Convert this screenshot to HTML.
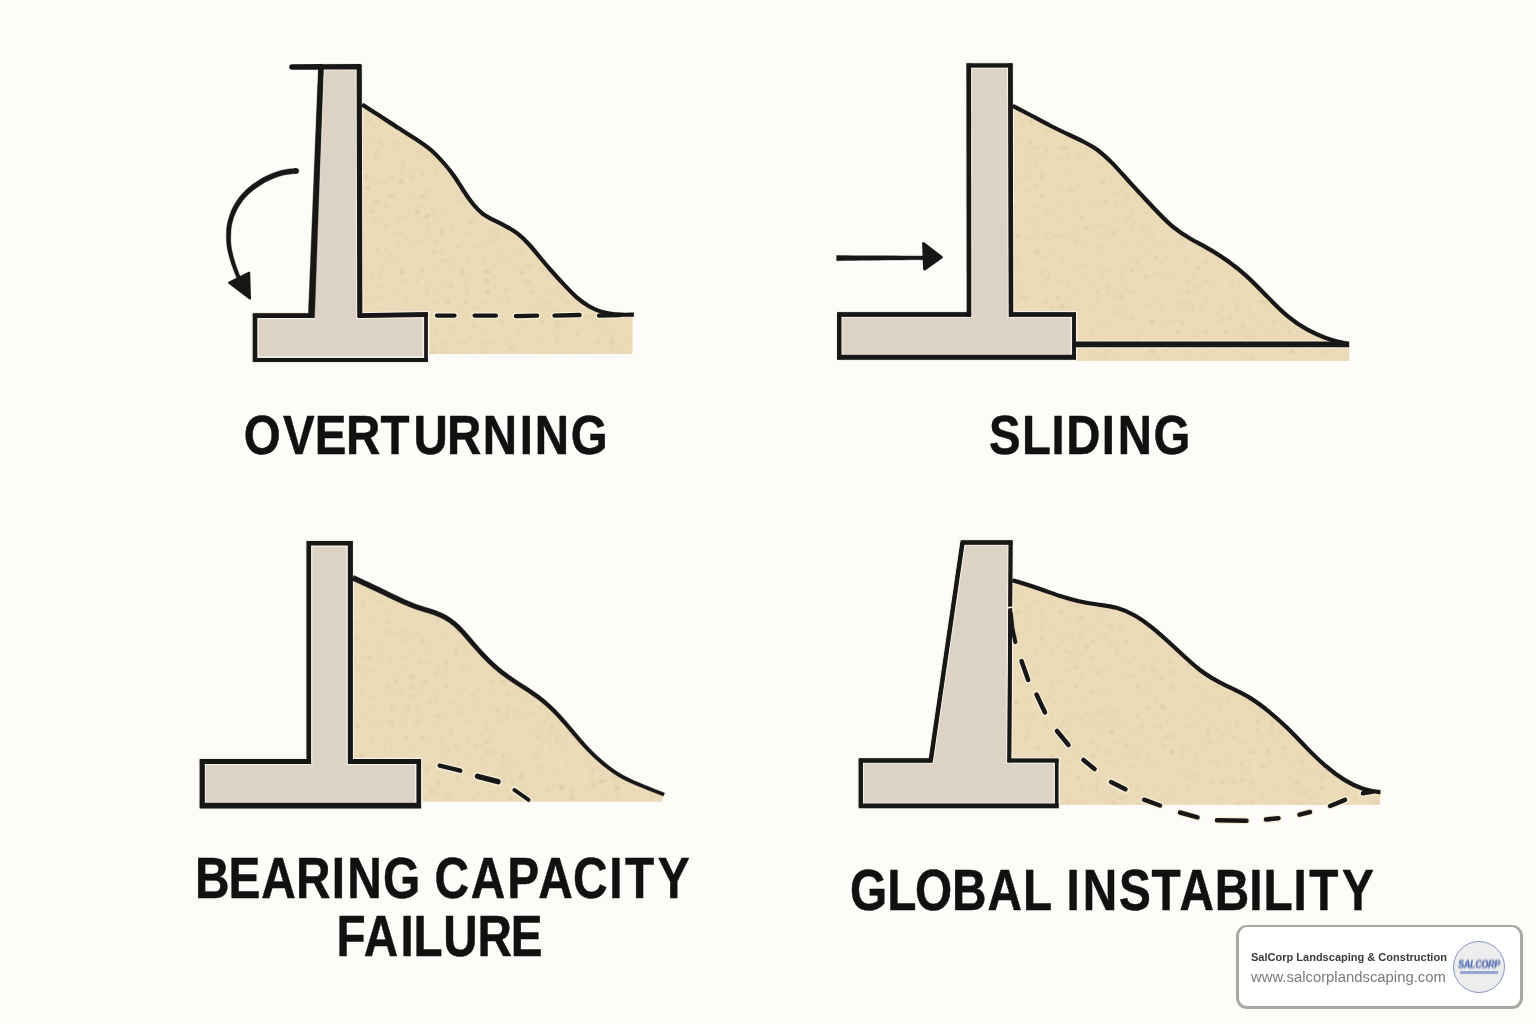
<!DOCTYPE html>
<html lang="en">
<head>
<meta charset="utf-8">
<title>Retaining wall failure modes</title>
<style>
  html, body { margin: 0; padding: 0; }
  body { width: 1536px; height: 1024px; overflow: hidden; background: #fefcf8;
         font-family: "Liberation Sans", sans-serif; position: relative; }
  svg.art { position: absolute; left: 0; top: 0; display: block; }
  .soil { fill: #ecdbb8; stroke: none; }
  .wallfill { fill: #ddd3c4; stroke: #f4efe4; stroke-linejoin: miter; }
  .wall { fill: none; stroke: #171717; stroke-linejoin: miter; }
  .edge { fill: none; stroke: #171717; stroke-linecap: butt; }
  .ink { fill: none; stroke: #171717; stroke-linecap: round; stroke-linejoin: round; }
  .butt { stroke-linecap: butt; }
  .fillink { fill: #171717; stroke: #171717; stroke-width: 0.4; stroke-linejoin: round; }
  .solid { fill: #171717; stroke: #171717; stroke-linejoin: round; }
  .dash path { fill: none; stroke: #171717; stroke-linecap: round; }
  .dash path.halo, path.halo { fill: none; stroke: #f7efd9; stroke-linecap: round; }
  .label text { font-family: "Liberation Sans", sans-serif; font-weight: 700; fill: #111;
                 stroke: #111; stroke-width: 0.5px; stroke-linejoin: round; }
  .badge { position: absolute; left: 1236px; top: 925px; width: 287px; height: 84px;
           box-sizing: border-box; border: solid #aaa8a2; border-width: 2px 3px 3px 3px; border-radius: 11px; background: #fff; }
  .badge .name, .badge .url { position: absolute; left: 12px; white-space: nowrap;
           transform-origin: 0 0; }
  .badge .name { top: 22px; font-size: 11.8px; line-height: 16px; font-weight: 700; color: #3a3a3a;
                 transform: scaleX(0.934); }
  .badge .url { top: 39.6px; font-size: 15.2px; line-height: 20px; color: #7a7a7a;
                transform: scaleX(0.978); }
  .badge .logo { position: absolute; left: 214px; top: 14px; width: 52px; height: 52px;
                 box-sizing: border-box; border-radius: 50%; border: 1px solid #8796c6;
                 background: #ededee; overflow: hidden; }
  .badge .logo span { position: absolute; left: 1px; top: 18.4px; width: 48px; text-align: center;
                      font-size: 10px; line-height: 10px; font-weight: 700; font-style: italic;
                      color: #5a72b2; letter-spacing: -0.2px;
                      transform: scaleX(0.88); filter: blur(0.8px);
                      text-shadow: 0.4px 0 0 #5a72b2; }
  .badge .logo i { position: absolute; left: 5.5px; top: 28.6px; width: 38px; height: 3px;
                   background: #93a4d0; transform: skewX(-14deg); filter: blur(0.7px); }
</style>
</head>
<body>
<svg class="art" width="1536" height="1024" viewBox="0 0 1536 1024">
  <defs>
    <!-- faint sandy speckle for the retained soil -->
    <filter id="sand" x="0" y="0" width="100%" height="100%" color-interpolation-filters="sRGB">
      <feTurbulence type="fractalNoise" baseFrequency="0.2" numOctaves="2" seed="11" result="n"/>
      <feColorMatrix in="n" type="matrix"
        values="0 0 0 0 0.81  0 0 0 0 0.73  0 0 0 0 0.56  3.4 0 0 0 -2.2" result="dots"/>
      <feGaussianBlur in="dots" stdDeviation="0.85" result="soft"/>
      <feComposite in="soft" in2="SourceGraphic" operator="in" result="clip"/>
      <feMerge><feMergeNode in="SourceGraphic"/><feMergeNode in="clip"/></feMerge>
    </filter>
  </defs>
  <!-- 1: overturning -->
  <g>
    <path class="soil" filter="url(#sand)" d="M362.1 104.4 C368.1 108.36 374.1 112.2 380.1 116.1 C386.37 120.17 392.63 124.31 398.9 128.3 C405.13 132.27 411.37 136.11 417.6 140.2 C422.23 143.24 426.87 146.42 431.5 150.5 C436 154.46 440.5 159.27 445 164.5 C448.37 168.41 451.73 172.55 455.1 177.5 C457.87 181.57 460.63 186.17 463.4 190.5 C466.53 195.4 469.67 199.94 472.8 203.8 C475.93 207.66 479.07 210.84 482.2 213.3 C485.33 215.76 488.47 217.48 491.6 219.1 C496.07 221.4 500.53 223.47 505 225.8 C509 227.88 513 230.17 517 233.2 C521.03 236.26 525.07 240.07 529.1 244.5 C532.77 248.53 536.43 253.06 540.1 257.5 C544.07 262.31 548.03 267.01 552 271.5 C556 276.02 560 280.33 564 284.6 C568.33 289.23 572.67 293.82 577 297.6 C581 301.09 585 303.89 589 306.2 C593.17 308.61 597.33 310.48 601.5 311.8 C606.03 313.24 610.57 314.02 615.1 314.4 C621.37 314.93 627.63 314.7 633.9 314.7 L632.5 315 L632.5 354 L426 354 L426 315 L360 315 Z"/>
    <g class="dash">
      <path class="halo" d="M437 315.6 L454.5 315.6" stroke-width="6.9"/>
      <path d="M437 315.6 L454.5 315.6" stroke-width="4.3"/>
      <path class="halo" d="M474.6 315.6 L495.9 315.7" stroke-width="6.9"/>
      <path d="M474.6 315.6 L495.9 315.7" stroke-width="4.3"/>
      <path class="halo" d="M515.9 316.2 L537.1 315.6" stroke-width="6.9"/>
      <path d="M515.9 316.2 L537.1 315.6" stroke-width="4.3"/>
      <path class="halo" d="M554.5 315.7 L579.6 315" stroke-width="6.9"/>
      <path d="M554.5 315.7 L579.6 315" stroke-width="4.3"/>
      <path class="halo" d="M599 315.6 L620 315" stroke-width="6.9"/>
      <path d="M599 315.6 L620 315" stroke-width="4.3"/>
    </g>
    <path class="wallfill" d="M321 66.9 L359.2 66.7 L359.8 315.6 L426 314.6 L426 359.9 L255 359.9 L255 315.6 L311.4 315.6 Z" stroke-width="7.2"/>
    <path class="ink butt" d="M362.1 104.4 C368.1 108.36 374.1 112.2 380.1 116.1 C386.37 120.17 392.63 124.31 398.9 128.3 C405.13 132.27 411.37 136.11 417.6 140.2 C422.23 143.24 426.87 146.42 431.5 150.5 C436 154.46 440.5 159.27 445 164.5 C448.37 168.41 451.73 172.55 455.1 177.5 C457.87 181.57 460.63 186.17 463.4 190.5 C466.53 195.4 469.67 199.94 472.8 203.8 C475.93 207.66 479.07 210.84 482.2 213.3 C485.33 215.76 488.47 217.48 491.6 219.1 C496.07 221.4 500.53 223.47 505 225.8 C509 227.88 513 230.17 517 233.2 C521.03 236.26 525.07 240.07 529.1 244.5 C532.77 248.53 536.43 253.06 540.1 257.5 C544.07 262.31 548.03 267.01 552 271.5 C556 276.02 560 280.33 564 284.6 C568.33 289.23 572.67 293.82 577 297.6 C581 301.09 585 303.89 589 306.2 C593.17 308.61 597.33 310.48 601.5 311.8 C606.03 313.24 610.57 314.02 615.1 314.4 C621.37 314.93 627.63 314.7 633.9 314.7" stroke-width="4.2"/>
    <path class="wall" d="M321 66.9 L359.2 66.7 L359.8 315.6 L426 314.6 L426 359.9 L255 359.9 L255 315.6 L311.4 315.6 Z" stroke-width="3.7"/>
    <path class="edge" d="M319.15 66.91 L361.05 66.69" stroke-width="5.4"/>
    <path class="edge" d="M359.2 64.85 L359.8 317.45" stroke-width="5.1"/>
    <path class="edge" d="M357.95 315.63 L427.85 314.57" stroke-width="4.9"/>
    <path class="edge" d="M427.85 359.9 L253.15 359.9" stroke-width="4"/>
    <path class="edge" d="M255 361.75 L255 313.75" stroke-width="4.6"/>
    <path class="edge" d="M253.15 315.6 L313.25 315.6" stroke-width="4.6"/>
    <path class="edge" d="M311.4 315.6 L321 66.9" stroke-width="4.8"/>
    <path class="fillink" d="M314.55 317.72 L315.85 281.63 L317.14 245.54 L318.41 209.45 L319.68 173.36 L320.97 137.27 L322.28 101.19 L323.6 65.1 L318.6 64.9 L317.1 100.98 L315.6 137.07 L314.13 173.15 L312.67 209.23 L311.21 245.32 L309.74 281.4 L308.25 317.48 Z"/>
    <path class="ink" d="M292 67 L321 66.9" stroke-width="5.6"/>
    <path class="fillink" d="M295.94 168.31 L292.19 168.69 L288.4 169.09 L284.54 169.65 L280.69 170.51 L276.93 171.63 L273.27 172.95 L269.69 174.44 L266.19 176.08 L262.76 177.87 L259.41 179.82 L256.17 181.93 L253.02 184.12 L249.93 186.44 L246.92 188.94 L244.08 191.66 L241.46 194.58 L239.03 197.62 L236.77 200.78 L234.68 204.08 L232.8 207.52 L231.18 211.09 L229.8 214.73 L228.61 218.42 L227.61 222.2 L226.9 226.08 L226.54 229.99 L226.41 233.83 L226.37 237.65 L226.47 241.52 L226.82 245.4 L227.43 249.24 L228.25 253.01 L229.22 256.71 L230.28 260.37 L231.43 264.01 L232.7 267.6 L234.05 271.14 L235.44 274.65 L236.82 278.14 L240.18 276.86 L238.88 273.33 L237.57 269.82 L236.32 266.31 L235.15 262.8 L234.1 259.25 L233.14 255.67 L232.27 252.08 L231.55 248.5 L231.04 244.91 L230.78 241.3 L230.74 237.65 L230.84 233.96 L231.01 230.3 L231.39 226.73 L232.09 223.23 L233.06 219.76 L234.21 216.3 L235.54 212.94 L237.07 209.68 L238.83 206.55 L240.79 203.52 L242.92 200.59 L245.21 197.78 L247.63 195.13 L250.23 192.67 L253.02 190.39 L255.96 188.23 L258.99 186.14 L262.07 184.17 L265.22 182.36 L268.46 180.69 L271.77 179.16 L275.13 177.76 L278.54 176.54 L281.99 175.52 L285.47 174.76 L289.05 174.25 L292.73 173.86 L296.46 173.49 Z"/><circle class="fillink" cx="296.2" cy="170.9" r="2.6"/>
    <path class="solid" d="M229 282.6 L249.2 272.6 L250 298.6 Z" stroke-width="2"/>
  </g>
  <!-- 2: sliding -->
  <g>
    <path class="soil" filter="url(#sand)" d="M1012.8 105.8 C1018.95 109.03 1025.1 112.21 1031.25 115.5 C1037.5 118.84 1043.75 122.28 1050 125.5 C1058.33 129.79 1066.67 133.67 1075 137.6 C1078.03 139.03 1081.07 140.46 1084.1 142 C1087.23 143.59 1090.37 145.29 1093.5 147.3 C1096.63 149.31 1099.77 151.64 1102.9 154.3 C1106.02 156.94 1109.13 159.91 1112.25 163.1 C1118.5 169.5 1124.75 176.79 1131 183.7 C1137.25 190.61 1143.5 197.15 1149.75 203.8 C1157.2 211.73 1164.65 219.82 1172.1 226.1 C1178.37 231.38 1184.63 235.39 1190.9 239 C1197.13 242.59 1203.37 245.81 1209.6 249.4 C1215.87 253.01 1222.13 257.01 1228.4 261.5 C1234.63 265.96 1240.87 270.9 1247.1 276.6 C1254.07 282.97 1261.03 290.28 1268 297.4 C1274.75 304.3 1281.5 311.03 1288.25 316.6 C1294.5 321.76 1300.75 325.93 1307 329.4 C1313.25 332.87 1319.5 335.65 1325.75 337.9 C1332.67 340.39 1339.58 342.22 1346.5 343.6 L1349.2 343.8 L1349.2 361 L1076 361 L1076 315 L1012 315 Z"/>
    <path class="wallfill" d="M968.75 65.4 L1010.4 65.4 L1011 314.5 L1074 314.5 L1074 357.3 L839.25 357.3 L839.25 314.5 L969 314.5 Z" stroke-width="6.8"/>
    <path class="halo" d="M1074 344.4 L1349.2 344.4" stroke-width="8" style="stroke-linecap:butt"/>
    <path class="ink butt" d="M1074 344.4 L1349.2 344.4" stroke-width="5.6"/>
    <path class="ink butt" d="M1012.8 105.8 C1018.95 109.03 1025.1 112.21 1031.25 115.5 C1037.5 118.84 1043.75 122.28 1050 125.5 C1058.33 129.79 1066.67 133.67 1075 137.6 C1078.03 139.03 1081.07 140.46 1084.1 142 C1087.23 143.59 1090.37 145.29 1093.5 147.3 C1096.63 149.31 1099.77 151.64 1102.9 154.3 C1106.02 156.94 1109.13 159.91 1112.25 163.1 C1118.5 169.5 1124.75 176.79 1131 183.7 C1137.25 190.61 1143.5 197.15 1149.75 203.8 C1157.2 211.73 1164.65 219.82 1172.1 226.1 C1178.37 231.38 1184.63 235.39 1190.9 239 C1197.13 242.59 1203.37 245.81 1209.6 249.4 C1215.87 253.01 1222.13 257.01 1228.4 261.5 C1234.63 265.96 1240.87 270.9 1247.1 276.6 C1254.07 282.97 1261.03 290.28 1268 297.4 C1274.75 304.3 1281.5 311.03 1288.25 316.6 C1294.5 321.76 1300.75 325.93 1307 329.4 C1313.25 332.87 1319.5 335.65 1325.75 337.9 C1332.67 340.39 1339.58 342.22 1346.5 343.6" stroke-width="4.2"/>
    <path class="wall" d="M968.75 65.4 L1010.4 65.4 L1011 314.5 L1074 314.5 L1074 357.3 L839.25 357.3 L839.25 314.5 L969 314.5 Z" stroke-width="3.9"/>
    <path class="edge" d="M966.8 65.4 L1012.35 65.4" stroke-width="4"/>
    <path class="edge" d="M1010.4 63.45 L1011 316.45" stroke-width="4.6"/>
    <path class="edge" d="M1009.05 314.5 L1075.95 314.5" stroke-width="4.6"/>
    <path class="edge" d="M1075.95 357.3 L837.3 357.3" stroke-width="5"/>
    <path class="edge" d="M839.25 359.25 L839.25 312.55" stroke-width="4.2"/>
    <path class="edge" d="M837.3 314.5 L970.95 314.5" stroke-width="4.6"/>
    <path class="edge" d="M969 316.45 L968.75 63.45" stroke-width="4.6"/>
    <path class="fillink" d="M836.61 260.7 L844.73 260.54 L852.86 260.42 L860.99 260.33 L869.12 260.23 L877.24 260.15 L885.37 260.06 L893.5 259.98 L901.63 259.89 L909.75 259.81 L917.88 259.73 L926.01 259.65 L925.99 255.95 L917.87 255.93 L909.74 255.92 L901.61 255.89 L893.48 255.87 L885.36 255.84 L877.23 255.81 L869.1 255.77 L860.97 255.73 L852.85 255.68 L844.72 255.62 L836.59 255.5 Z"/>
    <path class="solid" d="M923.6 243.6 L941.2 257.2 L924.6 269 Z" stroke-width="3"/>
  </g>
  <!-- 3: bearing capacity failure -->
  <g>
    <path class="soil" filter="url(#sand)" d="M352.9 577.8 C362.43 582.19 371.97 586.59 381.5 591.2 C394 597.25 406.5 603.65 419 607.8 C425.25 609.88 431.5 611.39 437.75 613.9 C444 616.41 450.25 619.9 456.5 625.6 C462.13 630.73 467.77 637.66 473.4 644.2 C479.63 651.44 485.87 658.22 492.1 664 C498.37 669.81 504.63 674.6 510.9 678.9 C517.13 683.17 523.37 686.95 529.6 691.1 C535.57 695.07 541.53 699.37 547.5 704.7 C553.03 709.64 558.57 715.46 564.1 721.8 C570.37 728.98 576.63 736.83 582.9 743.8 C589.13 750.73 595.37 756.78 601.6 762.1 C607.87 767.45 614.13 772.05 620.4 775.7 C626.63 779.33 632.87 782.01 639.1 784.6 C647.4 788.05 655.7 791.35 664 794.5 L662 801.8 L421 801.8 L421 761 L352 761 Z"/>
    <g class="dash">
      <path class="halo" d="M439.7 765.6 L460.3 770.6" stroke-width="7.1"/>
      <path d="M439.7 765.6 L460.3 770.6" stroke-width="4.5"/>
      <path class="halo" d="M477.6 776.3 L498 781.7" stroke-width="8"/>
      <path d="M477.6 776.3 L498 781.7" stroke-width="5.4"/>
      <path class="halo" d="M514.3 789.9 L528.6 799.9" stroke-width="6.4"/>
      <path d="M514.3 789.9 L528.6 799.9" stroke-width="3.8"/>
    </g>
    <path class="wallfill" d="M308.75 543.25 L350.3 543.25 L350.3 761.5 L418.75 761.5 L418.75 805.6 L202.2 805.6 L202.2 761.5 L308.75 761.5 Z" stroke-width="7.4"/>
    <path class="fillink" d="M351.81 580.16 L356.89 582.49 L361.96 584.82 L367.03 587.16 L372.08 589.52 L377.12 591.9 L382.15 594.31 L387.18 596.75 L392.22 599.18 L397.3 601.57 L402.43 603.9 L407.62 606.12 L412.89 608.21 L418.25 610.09 L423.63 611.77 L428.97 613.37 L434.18 615.09 L439.21 617.09 L444.03 619.47 L448.6 622.29 L452.88 625.54 L456.9 629.16 L460.7 633.09 L464.39 637.2 L468.03 641.4 L471.67 645.65 L475.38 649.87 L479.15 654.04 L483.02 658.15 L486.99 662.16 L491.1 666.05 L495.36 669.8 L499.75 673.38 L504.25 676.81 L508.86 680.08 L513.54 683.22 L518.25 686.26 L522.96 689.27 L527.63 692.29 L532.23 695.38 L536.72 698.59 L541.09 701.94 L545.32 705.47 L549.39 709.18 L553.33 713.04 L557.16 717.04 L560.89 721.13 L564.55 725.31 L568.17 729.55 L571.77 733.82 L575.39 738.09 L579.07 742.33 L582.82 746.52 L586.7 750.62 L590.68 754.61 L594.77 758.49 L598.98 762.25 L603.3 765.88 L607.75 769.37 L612.35 772.68 L617.1 775.78 L622.02 778.63 L627.07 781.2 L632.21 783.55 L637.38 785.75 L642.56 787.87 L647.76 789.97 L652.96 792.03 L658.18 794.05 L663.41 796.04 L664.59 792.96 L659.38 790.95 L654.19 788.9 L649.02 786.83 L643.86 784.72 L638.71 782.58 L633.61 780.38 L628.6 778.06 L623.7 775.54 L618.97 772.77 L614.38 769.74 L609.92 766.49 L605.59 763.07 L601.38 759.49 L597.27 755.79 L593.27 751.96 L589.39 748.02 L585.6 743.97 L581.92 739.83 L578.3 735.61 L574.71 731.34 L571.13 727.04 L567.51 722.76 L563.83 718.52 L560.06 714.34 L556.17 710.25 L552.15 706.27 L547.98 702.43 L543.65 698.77 L539.17 695.3 L534.59 691.99 L529.93 688.83 L525.23 685.76 L520.53 682.73 L515.87 679.69 L511.29 676.58 L506.8 673.36 L502.43 670 L498.18 666.49 L494.06 662.83 L490.08 659.02 L486.21 655.08 L482.43 651.03 L478.73 646.9 L475.09 642.7 L471.48 638.45 L467.82 634.18 L464.07 629.96 L460.12 625.84 L455.85 621.96 L451.25 618.44 L446.33 615.37 L441.15 612.77 L435.81 610.62 L430.41 608.81 L425.05 607.17 L419.78 605.5 L414.61 603.65 L409.5 601.6 L404.43 599.4 L399.39 597.08 L394.37 594.69 L389.36 592.24 L384.34 589.78 L379.31 587.34 L374.26 584.92 L369.2 582.52 L364.13 580.15 L359.06 577.79 L353.99 575.44 Z"/>
    <path class="wall" d="M308.75 543.25 L350.3 543.25 L350.3 761.5 L418.75 761.5 L418.75 805.6 L202.2 805.6 L202.2 761.5 L308.75 761.5 Z" stroke-width="4.6"/>
    <path class="edge" d="M350.3 540.95 L350.3 763.8" stroke-width="4.9"/>
    <path class="edge" d="M348 761.5 L421.05 761.5" stroke-width="5"/>
    <path class="edge" d="M421.05 805.6 L199.9 805.6" stroke-width="5.6"/>
    <path class="edge" d="M202.2 807.9 L202.2 759.2" stroke-width="5"/>
    <path class="edge" d="M199.9 761.5 L311.05 761.5" stroke-width="5"/>
  </g>
  <!-- 4: global instability -->
  <g>
    <path class="soil" filter="url(#sand)" d="M1012.4 580.2 C1022.1 583.11 1031.8 586.1 1041.5 589.5 C1047.75 591.69 1054 594.05 1060.25 596.1 C1066.5 598.15 1072.75 599.88 1079 601.25 C1085.25 602.62 1091.5 603.63 1097.75 604.5 C1104 605.37 1110.25 606.1 1116.5 607.8 C1122.75 609.5 1129 612.17 1135.25 615.8 C1140.33 618.75 1145.42 622.33 1150.5 626.3 C1158.83 632.81 1167.17 640.38 1175.5 648.2 C1183.67 655.86 1191.83 663.77 1200 670 C1208.33 676.36 1216.67 680.99 1225 685.1 C1233.33 689.21 1241.67 692.81 1250 697.9 C1256.47 701.85 1262.93 706.69 1269.4 712 C1275.63 717.12 1281.87 722.67 1288.1 728.8 C1294.37 734.96 1300.63 741.69 1306.9 748.1 C1313.13 754.47 1319.37 760.52 1325.6 765.9 C1331.87 771.31 1338.13 776.04 1344.4 779.9 C1350.63 783.74 1356.87 786.73 1363.1 788.8 C1368.9 790.73 1374.7 791.87 1380.5 792.1 L1380 805 L1058 805 L1058 760 L1011 760 Z"/>
    <g class="dash">
      <path class="halo" d="M1021.5 661 L1028.2 680" stroke-width="7.1"/>
      <path d="M1021.5 661 L1028.2 680" stroke-width="4.5"/>
      <path class="halo" d="M1036.5 694.5 L1045 712.5" stroke-width="7.1"/>
      <path d="M1036.5 694.5 L1045 712.5" stroke-width="4.5"/>
      <path class="halo" d="M1057 731 L1068.5 745" stroke-width="7.1"/>
      <path d="M1057 731 L1068.5 745" stroke-width="4.5"/>
      <path class="halo" d="M1083.5 760 L1094.5 769" stroke-width="7.1"/>
      <path d="M1083.5 760 L1094.5 769" stroke-width="4.5"/>
      <path class="halo" d="M1111 782 L1125.5 789.3" stroke-width="7.1"/>
      <path d="M1111 782 L1125.5 789.3" stroke-width="4.5"/>
      <path class="halo" d="M1144 799.7 L1160 805.5" stroke-width="7.1"/>
      <path d="M1144 799.7 L1160 805.5" stroke-width="4.5"/>
      <path class="halo" d="M1180 812.5 L1197.5 817.3" stroke-width="7.1"/>
      <path d="M1180 812.5 L1197.5 817.3" stroke-width="4.5"/>
      <path class="halo" d="M1217 820.2 L1246.5 820.8" stroke-width="7.1"/>
      <path d="M1217 820.2 L1246.5 820.8" stroke-width="4.5"/>
      <path class="halo" d="M1266 819.5 L1278.5 818.2" stroke-width="7.1"/>
      <path d="M1266 819.5 L1278.5 818.2" stroke-width="4.5"/>
      <path class="halo" d="M1299.5 814.6 L1310 812" stroke-width="7.1"/>
      <path d="M1299.5 814.6 L1310 812" stroke-width="4.5"/>
      <path class="halo" d="M1330 806 L1345 799.8" stroke-width="7.1"/>
      <path d="M1330 806 L1345 799.8" stroke-width="4.5"/>
      <path class="halo" d="M1363 793.3 L1372 791.8" stroke-width="7.1"/>
      <path d="M1363 793.3 L1372 791.8" stroke-width="4.5"/>
    </g>
    <path class="wallfill" d="M962.5 542.5 L1010.6 542.5 L1009.3 760.5 L1056.75 760.5 L1056.75 805.9 L860.75 805.9 L860.75 760.5 L930.75 760.5 Z" stroke-width="6.5"/>
    <path class="ink butt" d="M1012.4 580.2 C1022.1 583.11 1031.8 586.1 1041.5 589.5 C1047.75 591.69 1054 594.05 1060.25 596.1 C1066.5 598.15 1072.75 599.88 1079 601.25 C1085.25 602.62 1091.5 603.63 1097.75 604.5 C1104 605.37 1110.25 606.1 1116.5 607.8 C1122.75 609.5 1129 612.17 1135.25 615.8 C1140.33 618.75 1145.42 622.33 1150.5 626.3 C1158.83 632.81 1167.17 640.38 1175.5 648.2 C1183.67 655.86 1191.83 663.77 1200 670 C1208.33 676.36 1216.67 680.99 1225 685.1 C1233.33 689.21 1241.67 692.81 1250 697.9 C1256.47 701.85 1262.93 706.69 1269.4 712 C1275.63 717.12 1281.87 722.67 1288.1 728.8 C1294.37 734.96 1300.63 741.69 1306.9 748.1 C1313.13 754.47 1319.37 760.52 1325.6 765.9 C1331.87 771.31 1338.13 776.04 1344.4 779.9 C1350.63 783.74 1356.87 786.73 1363.1 788.8 C1368.9 790.73 1374.7 791.87 1380.5 792.1" stroke-width="4.2"/>
    <path class="wall" d="M962.5 542.5 L1010.6 542.5 L1009.3 760.5 L1056.75 760.5 L1056.75 805.9 L860.75 805.9 L860.75 760.5 L930.75 760.5 Z" stroke-width="3.6"/>
    <path class="edge" d="M960.7 542.5 L1012.4 542.5" stroke-width="4.4"/>
    <path class="edge" d="M1010.61 540.7 L1009.29 762.3" stroke-width="3.9"/>
    <path class="edge" d="M1007.5 760.5 L1058.55 760.5" stroke-width="4.1"/>
    <path class="edge" d="M1058.55 805.9 L858.95 805.9" stroke-width="4.7"/>
    <path class="edge" d="M860.75 807.7 L860.75 758.7" stroke-width="4.3"/>
    <path class="edge" d="M858.95 760.5 L932.55 760.5" stroke-width="4.3"/>
    <path class="edge" d="M930.75 760.5 L962.5 542.5" stroke-width="4.4"/>
    <path class="halo" d="M1008.4 607.6 L1012.6 607.2" stroke-width="1.6"/>
    <path class="ink" d="M1010.8 613 Q1011.7 628 1015.3 642" stroke-width="4"/>
  </g>
  <g class="label">
<text transform="translate(0 454.2) scale(0.85 1)" x="286.82 332.83 370.43 407.05 447.62 486.52 525.87 567.98 611.5 629.09 671.41" y="0" font-size="55.9" >OVERTURNING</text>
<text transform="translate(0 454.3) scale(0.85 1)" x="1163.65 1202.39 1237.03 1254.55 1296.14 1315.05 1357.13" y="0" font-size="55.7" >SLIDING</text>
<text transform="translate(0 897.5) scale(0.835 1)" x="233.48 273.51 312.88 354.57 397.31 415.79 458.8 489.61 520.42 563.9 607.44 644.74 686.22 729.59 748.47 787.75" y="0" font-size="57.3" >BEARING CAPACITY</text>
<text transform="translate(0 956.3) scale(0.84 1)" x="400.57 433.14 476.77 492.13 527.62 568.39 608.1" y="0" font-size="56.7" >FAILURE</text>
<text transform="translate(0 909.8) scale(0.845 1)" x="1006.02 1050.07 1082.97 1126.62 1168.58 1210.72 1236.43 1262.15 1281.39 1324.23 1362.61 1395.91 1437.63 1478.48 1495.33 1530.67 1549.42 1588.23" y="0" font-size="56.5" >GLOBAL INSTABILITY</text>
  </g>
</svg>
<div class="badge">
  <div class="name">SalCorp Landscaping &amp; Construction</div>
  <div class="url">www.salcorplandscaping.com</div>
  <div class="logo"><span>SALCORP</span><i></i></div>
</div>
</body>
</html>
